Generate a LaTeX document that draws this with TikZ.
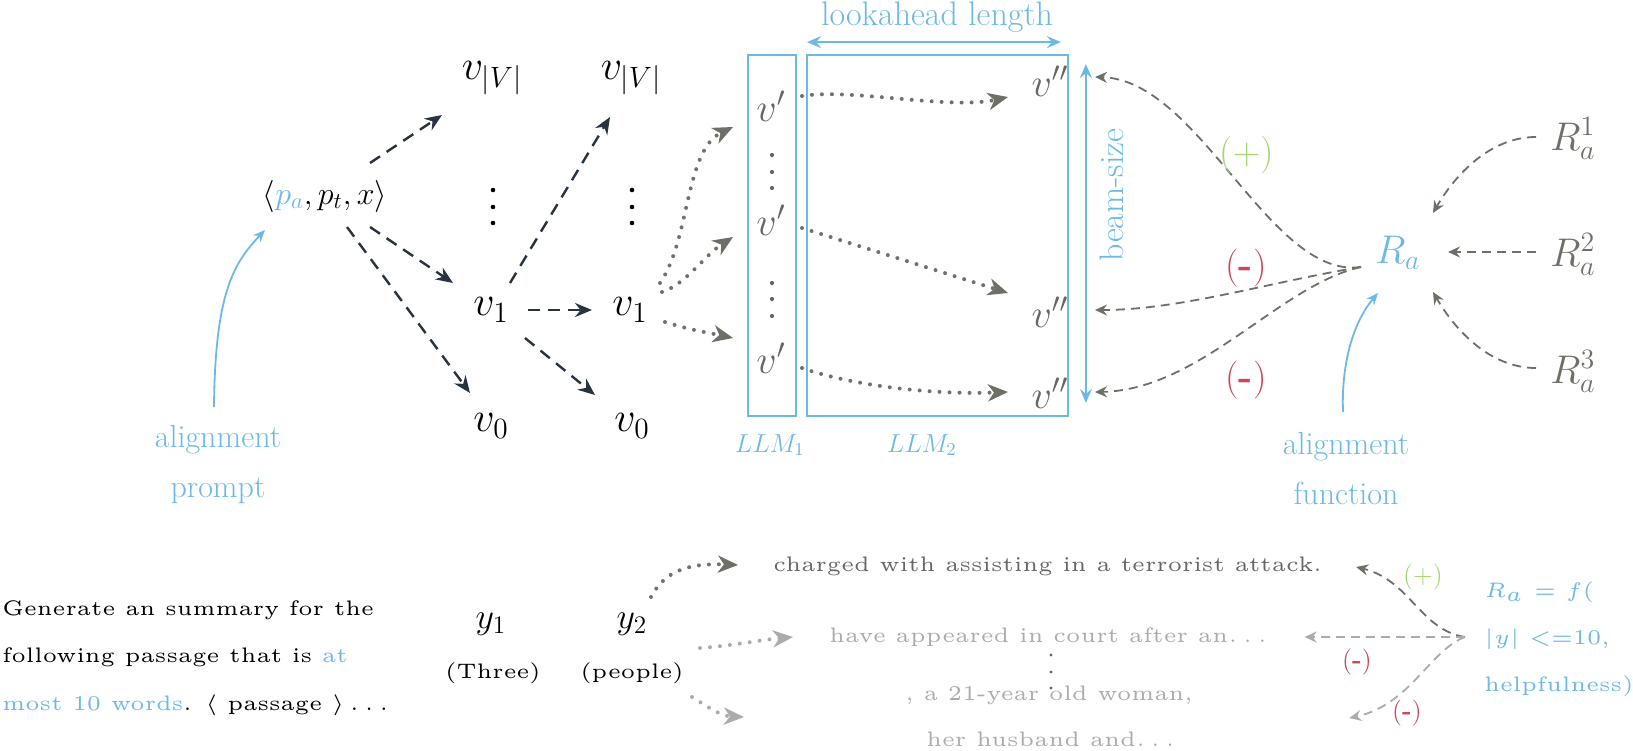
\RequirePackage{fix-cm}
\documentclass[tikz,border=0pt]{standalone}
\usepackage{graphicx}
\usetikzlibrary{arrows.meta}
\definecolor{cblue}{HTML}{6DB9E6}
\definecolor{cgreen}{HTML}{A6D672}
\definecolor{cred}{HTML}{C9465C}
\definecolor{cdark}{HTML}{29323F}
\definecolor{cgray}{HTML}{6C7066}
\definecolor{cdot}{HTML}{6F726B}
\definecolor{ctxt}{HTML}{666666}
\definecolor{clight}{HTML}{ABABAB}
\newcommand\smtxt[1]{\scalebox{2.1}{\fontsize{5}{11.4}\selectfont #1}}
\begin{document}
\begin{tikzpicture}[x=0.5pt,y=-0.5pt,
  every node/.style={inner sep=0pt},
  darr/.style={cdark, line width=1.2pt, dash pattern=on 6pt off 4pt, -{Stealth[length=8.5pt,width=7pt,inset=2.8pt]}},
  dotarr/.style={draw=cdot, line width=2pt, dash pattern=on 0pt off 5pt, line cap=round, -{Stealth[length=10pt,width=8.5pt,inset=3pt,color=cgray]}},
  ldotarr/.style={draw=clight, line width=2pt, dash pattern=on 0pt off 5pt, line cap=round, -{Stealth[length=10pt,width=8.5pt,inset=3pt,color=clight]}},
  garr/.style={cgray, line width=0.9pt, dash pattern=on 4.5pt off 3pt, -{Stealth[length=6pt,width=5.5pt,inset=2pt]}},
  lgarr/.style={clight, line width=0.9pt, dash pattern=on 4.5pt off 3pt, -{Stealth[length=6pt,width=5.5pt,inset=2pt]}},
  barr/.style={cblue, line width=0.9pt, -{Stealth[length=6pt,width=5pt,inset=2pt]}},
  mathl/.style={font=\fontsize{21}{25}\selectfont},
  vlab/.style={font=\fontsize{20}{24}\selectfont, text=ctxt},
  rlab/.style={font=\fontsize{20}{24}\selectfont, text=cgray},
  blab/.style={font=\fontsize{17}{25}\selectfont, text=cblue},
  box/.style={draw=cblue, line width=0.9pt, minimum height=180.5pt},
  sign/.style={font=\fontsize{19}{22}\selectfont},
  ssign/.style={font=\fontsize{13}{15}\selectfont}
]
\useasboundingbox (0,0) rectangle (1633,750);

% ---------- left tree ----------
\node[font=\fontsize{16}{19}\selectfont] (tup) at (325,196) {$\langle{\color{cblue}p_a},p_t,x\rangle$};
\node[mathl] (vV1) at (492,78) {$v_{|V|}$};
\node[mathl] (v11) at (491,310) {$v_1$};
\node[mathl] (v01) at (491,426) {$v_0$};
\node[mathl] (vV2) at (631,78) {$v_{|V|}$};
\node[mathl] (v12) at (630,310) {$v_1$};
\node[mathl] (v02) at (632,426) {$v_0$};
\foreach \yy in {190,207,223}{
  \fill[black] (493,\yy) circle (2.3);
  \fill[black] (632,\yy) circle (2.3);
}

\draw[darr] ([shift={(45,-33)}]tup.center) -- ([shift={(-50,37)}]vV1.center);
\draw[darr] ([shift={(45,31)}]tup.center) -- ([shift={(-38,-27)}]v11.center);
\draw[darr] ([shift={(22,31)}]tup.center) -- ([shift={(-21,-33)}]v01.center);
\draw[darr] ([shift={(37,0)}]v11.center) -- ([shift={(-38,0)}]v12.center);
\draw[darr] ([shift={(19,-27)}]v11.center) -- ([shift={(-21,39)}]vV2.center);
\draw[darr] ([shift={(34,28)}]v11.center) -- ([shift={(-37,-31)}]v02.center);

% ---------- LLM boxes ----------
\node[box, minimum width=24pt] (llmA) at (772,235.5) {};
\node[box, minimum width=130.5pt] (llmB) at (937.5,235.5) {};
\node[vlab] (vp1) at (771,106) {$v'$};
\node[vlab] (vp2) at (771,220) {$v'$};
\node[vlab] (vp3) at (771,358) {$v'$};
\foreach \yy in {155,172,188,283,299,316}{
  \fill[ctxt] (772,\yy) circle (2.1);
}
\node[vlab] (vpp1) at (1050,81) {$v''$};
\node[vlab] (vpp2) at (1050,312) {$v''$};
\node[vlab] (vpp3) at (1050,393) {$v''$};
\node[font=\fontsize{13}{15}\selectfont, text=cblue, anchor=base] (l1) at (770,452) {$LLM_1$};
\node[font=\fontsize{13}{15}\selectfont, text=cblue, anchor=base] (l2) at (922,452) {$LLM_2$};

\draw[dotarr] ([shift={(30,-27)}]v12.center) .. controls (690,240) and (685,150) .. ([shift={(-38,21)}]vp1.center);
\draw[dotarr] ([shift={(32,-18)}]v12.center) .. controls (685,285) and (705,255) .. ([shift={(-38,17)}]vp2.center);
\draw[dotarr] ([shift={(35,12)}]v12.center) .. controls (690,330) and (710,333) .. ([shift={(-38,-20)}]vp3.center);

\draw[dotarr] ([shift={(31,-10)}]vp1.center) .. controls (850,88) and (950,110) .. ([shift={(-42,16)}]vpp1.center);
\draw[dotarr] ([shift={(31,8)}]vp2.center) -- ([shift={(-42,-19)}]vpp2.center);
\draw[dotarr] ([shift={(31,10)}]vp3.center) .. controls (850,385) and (930,395) .. ([shift={(-42,-1)}]vpp3.center);

\node[blab, anchor=base] (la) at (937,25) {lookahead length};
\draw[cblue, line width=0.9pt, {Stealth[length=7pt,width=6pt,inset=2.5pt]}-{Stealth[length=7pt,width=6pt,inset=2.5pt]}]
  ([shift={(1,-12)}]llmB.north west) -- ([shift={(-8,-12)}]llmB.north east);
\draw[cblue, line width=0.9pt, {Stealth[length=7pt,width=6pt,inset=2.5pt]}-{Stealth[length=7pt,width=6pt,inset=2.5pt]}]
  ([shift={(17,10)}]llmB.north east) -- ([shift={(17,-14)}]llmB.south east);
\node[blab, rotate=90] (bs) at (1112,195) {beam-size};

% ---------- alignment function ----------
\node[font=\fontsize{20}{24}\selectfont, text=cblue, anchor=base west] (Ra) at (1375,263) {$R_a$};
\node[rlab, anchor=base west] (R1) at (1550,150) {$R_a^1$};
\node[rlab, anchor=base west] (R2) at (1550,266) {$R_a^2$};
\node[rlab, anchor=base west] (R3) at (1550,383) {$R_a^3$};

\draw[garr] ([shift={(-14,-13)}]R1.base west) .. controls (1490,137) and (1455,175) .. ([shift={(12,-50)}]Ra.base east);
\draw[garr] ([shift={(-14,-14)}]R2.base west) -- ([shift={(27,-11)}]Ra.base east);
\draw[garr] ([shift={(-14,-15)}]R3.base west) .. controls (1490,368) and (1455,330) .. ([shift={(12,29)}]Ra.base east);

\draw[garr] ([shift={(-14,4)}]Ra.base west) .. controls (1270,280) and (1200,80) .. ([shift={(45,-4)}]vpp1.center);
\draw[garr] ([shift={(-14,4)}]Ra.base west) .. controls (1270,282) and (1180,310) .. ([shift={(45,-2)}]vpp2.center);
\draw[garr] ([shift={(-14,4)}]Ra.base west) .. controls (1280,285) and (1200,390) .. ([shift={(45,-1)}]vpp3.center);

\node[sign, text=cgreen] (pl) at (1247,155) {(+)};
\node[sign, text=cred] (mi1) at (1246,268) {(\textbf{-})};
\node[sign, text=cred] (mi2) at (1246,380) {(\textbf{-})};

\node[blab, font=\fontsize{16}{25}\selectfont, align=center, anchor=north] (af) at (1346,432) {alignment\\function};
\draw[barr] ([shift={(-3,-20)}]af.north) .. controls (1341,360) and (1355,320) .. ([shift={(3,30)}]Ra.base west);

\node[blab, font=\fontsize{16}{25}\selectfont, align=center, anchor=north] (ap) at (218,425) {alignment\\prompt};
\draw[barr] ([shift={(-4,-18)}]ap.north) .. controls (215,290) and (235,262) .. ([shift={(-60,34)}]tup.center);

% ---------- bottom example ----------
\node[anchor=base west] (pr) at (2,615) {\smtxt{\begin{tabular}[t]{@{}l@{}}Generate an summary for the\\ following passage that is {\color{cblue}at}\\ {\color{cblue}most 10 words}. $\langle$ passage $\rangle\ldots$\end{tabular}}};
\node[font=\fontsize{18}{22}\selectfont, anchor=base] (y1) at (491,628) {$y_1$};
\node[anchor=base] (th) at (493,678) {\smtxt{(Three)}};
\node[font=\fontsize{18}{22}\selectfont, anchor=base] (y2) at (632,628) {$y_2$};
\node[anchor=base] (pe) at (632,678) {\smtxt{(people)}};

\node[anchor=base west, text=ctxt] (ch) at (773,571) {\smtxt{charged with assisting in a terrorist attack.}};
\node[anchor=base west, text=clight] (hv) at (829,642) {\smtxt{have appeared in court after an$\ldots$}};
\foreach \yy in {655,672,688}{
  \fill[ctxt] (1051,\yy) circle (1.7);
}
\node[anchor=base west, text=clight] (wo) at (905,700) {\smtxt{, a 21-year old woman,}};
\node[anchor=base west, text=clight] (hu) at (926,746) {\smtxt{her husband and$\ldots$}};

\draw[dotarr] ([shift={(19,-31)}]y2.base) .. controls (665,570) and (690,563) .. ([shift={(-35,-6)}]ch.base west);
\draw[ldotarr] ([shift={(68,20)}]y2.base) .. controls (730,646) and (760,640) .. ([shift={(-36,-5)}]hv.base west);
\draw[ldotarr] ([shift={(60,69)}]y2.base) .. controls (705,705) and (720,716) .. ([shift={(-161,17)}]wo.base west);

\node[anchor=base west, text=cblue] (rf) at (1484,597) {\smtxt{$R_a$ = $f$(}};
\node[anchor=base west, text=cblue] (yl) at (1484,644) {\smtxt{$|y|$ <=10,}};
\node[anchor=base west, text=cblue] (hp) at (1484,691) {\smtxt{helpfulness)}};

\draw[garr] ([shift={(-19,-7)}]yl.base west) .. controls (1420,630) and (1410,580) .. ([shift={(34,-4)}]ch.base east);
\draw[lgarr] ([shift={(-19,-7)}]yl.base west) -- ([shift={(37,-5)}]hv.base east);
\draw[lgarr] ([shift={(-19,-7)}]yl.base west) .. controls (1430,650) and (1410,705) .. ([shift={(156,18)}]wo.base east);

\node[ssign, text=cgreen] (bpl) at (1423,577) {(+)};
\node[ssign, text=cred] (bmi1) at (1357,662) {(\textbf{-})};
\node[ssign, text=cred] (bmi2) at (1407,713) {(\textbf{-})};
\end{tikzpicture}
\end{document}
